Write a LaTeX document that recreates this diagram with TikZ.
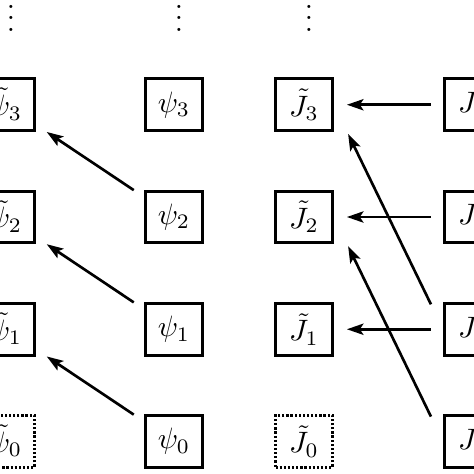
\documentclass[tikz,border=0pt]{standalone}
\usetikzlibrary{arrows.meta}
\begin{document}
\begin{tikzpicture}[x=0.339pt,y=-0.339pt,
  box/.style={draw,line width=1pt,minimum width=19.3pt,minimum height=17.6pt,inner sep=0pt},
  dotbox/.style={box,dash pattern=on 0.75pt off 0.65pt},
  arr/.style={line width=0.9pt,-{Stealth[length=5.6pt,width=3.8pt,inset=1.2pt]},shorten <=4.2pt,shorten >=4.4pt},
  longarr/.style={arr,shorten <=9.4pt,shorten >=11pt},
  vd/.style={inner sep=0pt,anchor=base}]
\clip (0,0) rectangle (474,474);
% vertical dots
\node[vd] (dA) at (11,31.6) {$\vdots$};
\node[vd] (dB) at (179,31.6) {$\vdots$};
\node[vd] (dC) at (309,31.6) {$\vdots$};
% column of tilde psi
\node[box] (tp3) at (6,104.75) {$\tilde{\psi}_3$};
\node[box] (tp2) at (6,217) {$\tilde{\psi}_2$};
\node[box] (tp1) at (6,329.25) {$\tilde{\psi}_1$};
\node[dotbox] (tp0) at (6,441.5) {$\tilde{\psi}_0$};
% column of psi
\node[box] (p3) at (174,104.75) {$\psi_3$};
\node[box] (p2) at (174,217) {$\psi_2$};
\node[box] (p1) at (174,329.25) {$\psi_1$};
\node[box] (p0) at (174,441.5) {$\psi_0$};
% column of tilde J
\node[box] (tJ3) at (304,104.75) {$\tilde{J}_3$};
\node[box] (tJ2) at (304,217) {$\tilde{J}_2$};
\node[box] (tJ1) at (304,329.25) {$\tilde{J}_1$};
\node[dotbox] (tJ0) at (304,441.5) {$\tilde{J}_0$};
% column of J
\node[box] (J3) at (473,104.75) {$J_3$};
\node[box] (J2) at (473,217) {$J_2$};
\node[box] (J1) at (473,329.25) {$J_1$};
\node[box] (J0) at (473,441.5) {$J_0$};
% arrows
\draw[arr] (p2) -- (tp3);
\draw[arr] (p1) -- (tp2);
\draw[arr] (p0) -- (tp1);
\draw[arr] (J3) -- (tJ3);
\draw[arr] (J2) -- (tJ2);
\draw[arr] (J1) -- (tJ1);
\draw[longarr] (J1.west) -- (tJ3.east);
\draw[longarr] (J0.west) -- (tJ2.east);
\end{tikzpicture}
\end{document}
